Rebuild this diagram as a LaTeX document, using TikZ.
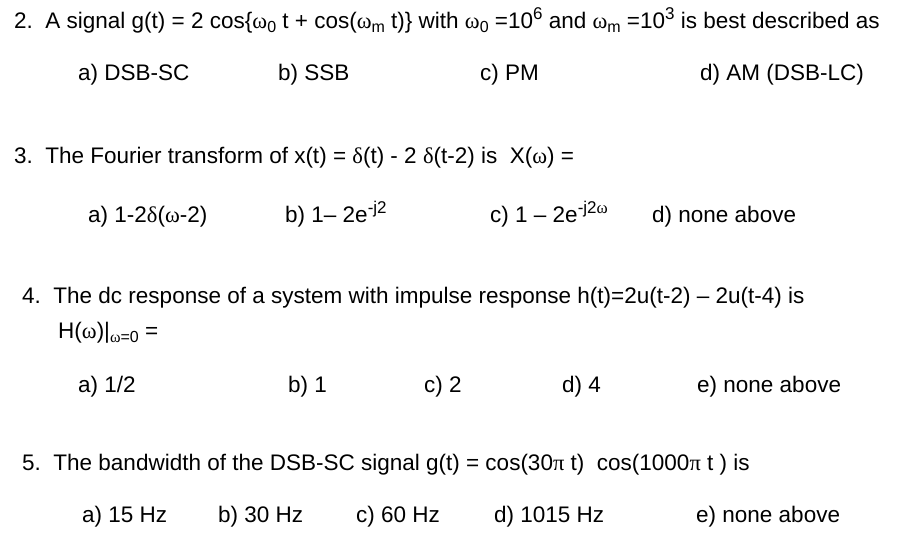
\documentclass[tikz,border=0pt]{standalone}
\usepackage{fontspec}
\setmainfont{Liberation Sans}
\newfontfamily\gk{Liberation Serif}
\newcommand{\dn}[1]{\raisebox{-0.35ex}{\fontsize{16}{16}\selectfont #1}}
\newcommand{\upp}[1]{\raisebox{0.75ex}{\fontsize{17}{17}\selectfont #1}}
\newcommand{\w}{{\gk ω}}
\newcommand{\dl}{{\gk δ}}
\newcommand{\pii}{{\gk π}}
\begin{document}
\begin{tikzpicture}[x=1pt,y=-1pt,every node/.style={anchor=base west,inner sep=0pt,font=\fontsize{22.5}{26}\selectfont}]
\useasboundingbox (0,0) rectangle (905,536);
\node (q2) at (14,28) {2.\ \ A signal g(t) = 2 cos\{\w\dn{0} t + cos(\w\dn{m} t)\} with \w\dn{0} =10\upp{6} and \w\dn{m} =10\upp{3} is best described as};
\node (q2a) at (78,80) {a) DSB-SC};
\node (q2b) at (278,80) {b) SSB};
\node (q2c) at (480,80) {c) PM};
\node (q2d) at (700,80) {d) AM (DSB-LC)};
\node (q3) at (14,163) {3.\ \ The Fourier transform of x(t) = \dl(t) - 2 \dl(t-2) is\ \ X(\w) =};
\node (q3a) at (88,222) {a) 1-2\dl(\w-2)};
\node (q3b) at (285,222) {b) 1-- 2e\upp{-j2}};
\node (q3c) at (490,222) {c) 1 -- 2e\upp{-j2\w}};
\node (q3d) at (652,222) {d) none above};
\node (q4) at (22,303) {4.\ \ The dc response of a system with impulse response h(t)=2u(t-2) -- 2u(t-4) is};
\node (q4h) at (58,338) {H(\w)|\dn{\w=0} =};
\node (q4a) at (78,392) {a) 1/2};
\node (q4b) at (288,392) {b) 1};
\node (q4c) at (424,392) {c) 2};
\node (q4d) at (562,392) {d) 4};
\node (q4e) at (697,392) {e) none above};
\node (q5) at (22,470) {5.\ \ The bandwidth of the DSB-SC signal g(t) = cos(30\pii\ t)\ \ cos(1000\pii\ t ) is};
\node (q5a) at (82,522) {a) 15 Hz};
\node (q5b) at (218,522) {b) 30 Hz};
\node (q5c) at (356,522) {c) 60 Hz};
\node (q5d) at (494,522) {d) 1015 Hz};
\node (q5e) at (696,522) {e) none above};
\end{tikzpicture}
\end{document}
